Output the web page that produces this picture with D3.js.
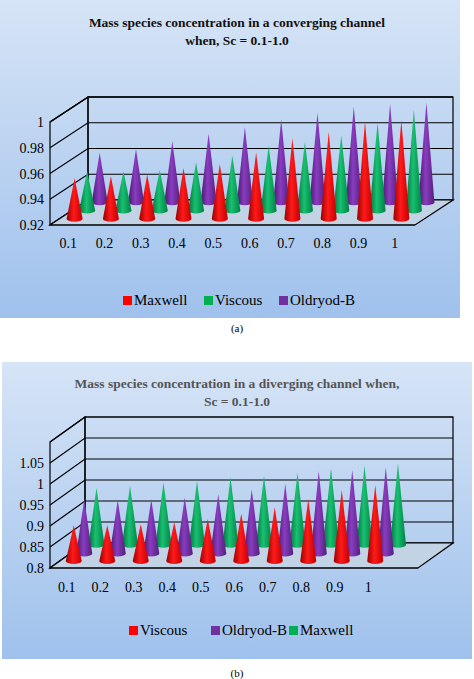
<!DOCTYPE html>
<html><head><meta charset="utf-8">
<script src="https://cdn.jsdelivr.net/npm/d3@7"></script>
<style>body{margin:0;background:#fff}svg{display:block}text{font-family:"Liberation Serif","DejaVu Serif",serif}</style>
</head><body>
<script>
const categories = ["0.1","0.2","0.3","0.4","0.5","0.6","0.7","0.8","0.9","1"];
// Panel (a): converging channel
const aMaxwell = [0.953,0.9545,0.956,0.961,0.964,0.973,0.984,0.989,0.997,0.998];
const aViscous = [0.952,0.952,0.953,0.959,0.964,0.972,0.975,0.980,0.990,1.000];
const aOldroyd = [0.960,0.963,0.969,0.975,0.980,0.986,0.991,0.996,0.998,0.999];
const aTicks = [0.92,0.94,0.96,0.98,1];
// Panel (b): diverging channel
const bViscous = [0.890,0.890,0.892,0.897,0.905,0.917,0.933,0.952,0.974,0.986];
const bOldroyd = [0.934,0.932,0.934,0.938,0.946,0.958,0.970,1.002,1.004,1.010];
const bMaxwell = [0.940,0.945,0.953,0.957,0.966,0.969,0.977,0.987,0.993,0.998];
const bTicks = [0.8,0.85,0.9,0.95,1,1.05];

const W=474,H=679;
const svg=d3.select("body").append("svg").attr("width",W).attr("height",H);
const defs=svg.append("defs");
const bg=defs.append("linearGradient").attr("id","bg").attr("x1",0).attr("y1",0).attr("x2",0).attr("y2",1);
bg.append("stop").attr("offset","0%").attr("stop-color","#d6e4f6");
bg.append("stop").attr("offset","100%").attr("stop-color","#9fc1ec");
const colors={red:["#9a0000","#ff1a1a","#c00000"],green:["#00703e","#19c070","#008045"],purple:["#44186a","#8a3cc0","#52207a"]};
Object.entries(colors).forEach(([k,c])=>{
  const g=defs.append("linearGradient").attr("id","g_"+k).attr("x1",0).attr("x2",1).attr("y1",0).attr("y2",0);
  g.append("stop").attr("offset","0%").attr("stop-color",c[0]);
  g.append("stop").attr("offset","45%").attr("stop-color",c[1]);
  g.append("stop").attr("offset","100%").attr("stop-color",c[2]);
});
const legendColor={red:"#ff0000",green:"#00b050",purple:"#7030a0"};
const FF='"Liberation Serif","DejaVu Serif",serif';

function panel(o){
  const g=svg.append("g");
  g.append("rect").attr("x",o.bx).attr("y",o.by).attr("width",o.bw).attr("height",o.bh).attr("fill","url(#bg)");
  o.title.forEach((t,i)=>g.append("text").attr("x",237).attr("y",o.ty+i*18).attr("text-anchor","middle")
    .attr("font-family",FF).attr("font-weight","bold").attr("font-size",13.5).attr("fill",o.tcol).text(t));
  const y=d3.scaleLinear().domain([o.ticks[0],o.ymax]).range([o.floorY,o.topY]);
  const x=d3.scaleBand().domain(categories).range([o.x0,o.xc1]);
  const P=(xx,v,d)=>[xx+d*o.dx, y(v)+d*o.dy];
  const lo=o.ticks[0];
  const bl=P(o.x0,lo,1), br=P(o.x1,lo,1), tl=P(o.x0,o.ymax,1), tr=P(o.x1,o.ymax,1);
  g.append("path").attr("d",`M${tl}L${tr}L${br}L${bl}Z`).attr("fill","none").attr("stroke","#000").attr("stroke-width",1.2);
  g.append("path").attr("d",`M${P(o.x0,lo,0)}L${P(o.x0,o.ymax,0)}L${tl}L${bl}Z`).attr("fill","none").attr("stroke","#000").attr("stroke-width",1.2);
  o.ticks.concat([o.ymax]).forEach(t=>{
    g.append("path").attr("d",`M${P(o.x0,t,0)}L${P(o.x0,t,1)}L${P(o.x1,t,1)}`).attr("fill","none").attr("stroke","#000").attr("stroke-width",1.2);
  });
  o.ticks.forEach(t=>g.append("text").attr("x",o.x0-6).attr("y",y(t)+5).attr("text-anchor","end")
    .attr("font-family",FF).attr("font-size",14).text(t));
  g.append("path").attr("d",`M${P(o.x0,lo,0)}L${P(o.x1,lo,0)}L${br}L${bl}Z`).attr("fill","#c3d3e6").attr("stroke","#000").attr("stroke-width",1.2);
  for(let s=o.series.length-1;s>=0;s--){
    const se=o.series[s], d=se.depth;
    categories.forEach((c,i)=>{
      const cx=x(c)+x.bandwidth()/2+d*o.dx;
      const base=y(lo)+d*o.dy-2, tip=y(se.values[i])+d*o.dy, hw=o.hw;
      g.append("path").attr("d",`M${cx-hw},${base}L${cx},${tip}L${cx+hw},${base}A${hw},3 0 0 1 ${cx-hw},${base}Z`).attr("fill",`url(#g_${se.color})`);
    });
  }
  g.append("line").attr("x1",o.x0).attr("x2",o.x1).attr("y1",y(lo)).attr("y2",y(lo)).attr("stroke","#000").attr("stroke-width",1.2);
  categories.forEach(c=>g.append("text").attr("x",x(c)+x.bandwidth()/2).attr("y",o.labY).attr("text-anchor","middle")
    .attr("font-family",FF).attr("font-size",14).text(c));
  o.legend.forEach(l=>{
    g.append("rect").attr("x",l.x).attr("y",o.legY-9).attr("width",9).attr("height",9).attr("fill",legendColor[l.color]);
    g.append("text").attr("x",l.x+11).attr("y",o.legY).attr("font-family",FF).attr("font-size",15).text(l.name);
  });
  g.append("text").attr("x",237).attr("y",o.capY).attr("text-anchor","middle").attr("font-family",FF).attr("font-size",11).text(o.cap);
}

panel({bx:0,by:0,bw:460,bh:318,ty:27,tcol:"#111",title:["Mass species concentration in a converging channel","when, Sc = 0.1-1.0"],
  ticks:aTicks,ymax:1.0,floorY:225,topY:122,x0:50,x1:415,xc1:413,dx:38,dy:-25,hw:8,labY:248,
  series:[{values:aMaxwell,color:"red",depth:0.17},{values:aViscous,color:"green",depth:0.5},{values:aOldroyd,color:"purple",depth:0.83}],
  legY:305,legend:[{x:123,color:"red",name:"Maxwell"},{x:204,color:"green",name:"Viscous"},{x:279,color:"purple",name:"Oldryod-B"}],
  capY:332,cap:"(a)"});
panel({bx:2,by:362,bw:470,bh:297,ty:388,tcol:"#555",title:["Mass species concentration in a diverging channel when,","Sc = 0.1-1.0"],
  ticks:bTicks,ymax:1.1,floorY:568,topY:442,x0:50,x1:418,xc1:385,dx:35,dy:-25,hw:8,labY:592,
  series:[{values:bViscous,color:"red",depth:0.2},{values:bOldroyd,color:"purple",depth:0.5},{values:bMaxwell,color:"green",depth:0.85}],
  legY:635,legend:[{x:129,color:"red",name:"Viscous"},{x:211,color:"purple",name:"Oldryod-B"},{x:289,color:"green",name:"Maxwell"}],
  capY:677,cap:"(b)"});
</script>
</body></html>
